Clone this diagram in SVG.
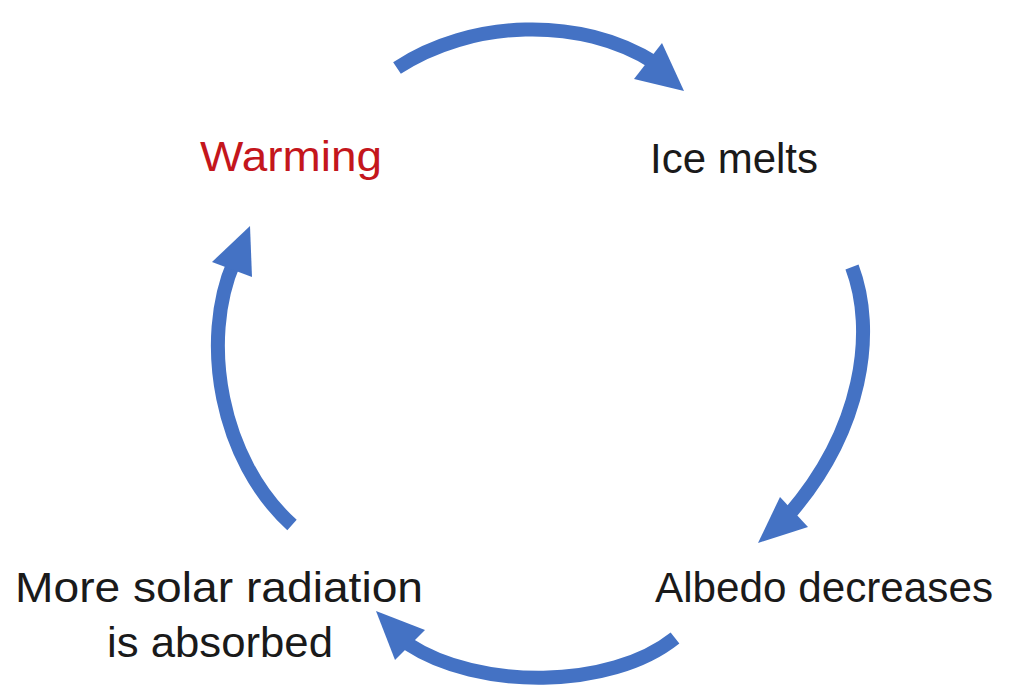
<svg xmlns="http://www.w3.org/2000/svg" width="1011" height="700" viewBox="0 0 1011 700">
<style>
.shaft{fill:none;stroke:#4472C4;stroke-width:14;stroke-linecap:butt}
.head{fill:#4472C4}
.lbl{font-family:"Liberation Sans",Arial,sans-serif;font-size:43px;fill:#1a1a1a}
.red{fill:#C4161C}
</style>
<rect width="1011" height="700" fill="#ffffff"/>
<g id="connectors">
<g id="arrow-top">
<path class="shaft" d="M397,68 C470,20 580,15 655,63"/>
<polygon class="head" points="662,43 684,91 634,79"/>
</g>
<g id="arrow-right">
<path class="shaft" d="M852,267 C876,330 864,430 786,518"/>
<polygon class="head" points="780,497 758,543 808,527"/>
</g>
<g id="arrow-bottom">
<path class="shaft" d="M675,638 C610,690 478,690 408,644"/>
<polygon class="head" points="425,630 376,611 395,660"/>
</g>
<g id="arrow-left">
<path class="shaft" d="M292,525 C220,460 200,340 234,262"/>
<polygon class="head" points="212,262 250,226 252,277"/>
</g>
</g>
<g id="node-warming">
<text class="lbl red" x="200" y="171" textLength="182" lengthAdjust="spacingAndGlyphs">Warming</text>
</g>
<g id="node-ice">
<text class="lbl" x="650" y="173" textLength="168" lengthAdjust="spacingAndGlyphs">Ice melts</text>
</g>
<g id="node-albedo">
<text class="lbl" x="655" y="602" textLength="338" lengthAdjust="spacingAndGlyphs">Albedo decreases</text>
</g>
<g id="node-solar">
<text class="lbl" x="15" y="602" textLength="408" lengthAdjust="spacingAndGlyphs">More solar radiation</text>
<text class="lbl" x="107" y="657" textLength="226" lengthAdjust="spacingAndGlyphs">is absorbed</text>
</g>
</svg>
